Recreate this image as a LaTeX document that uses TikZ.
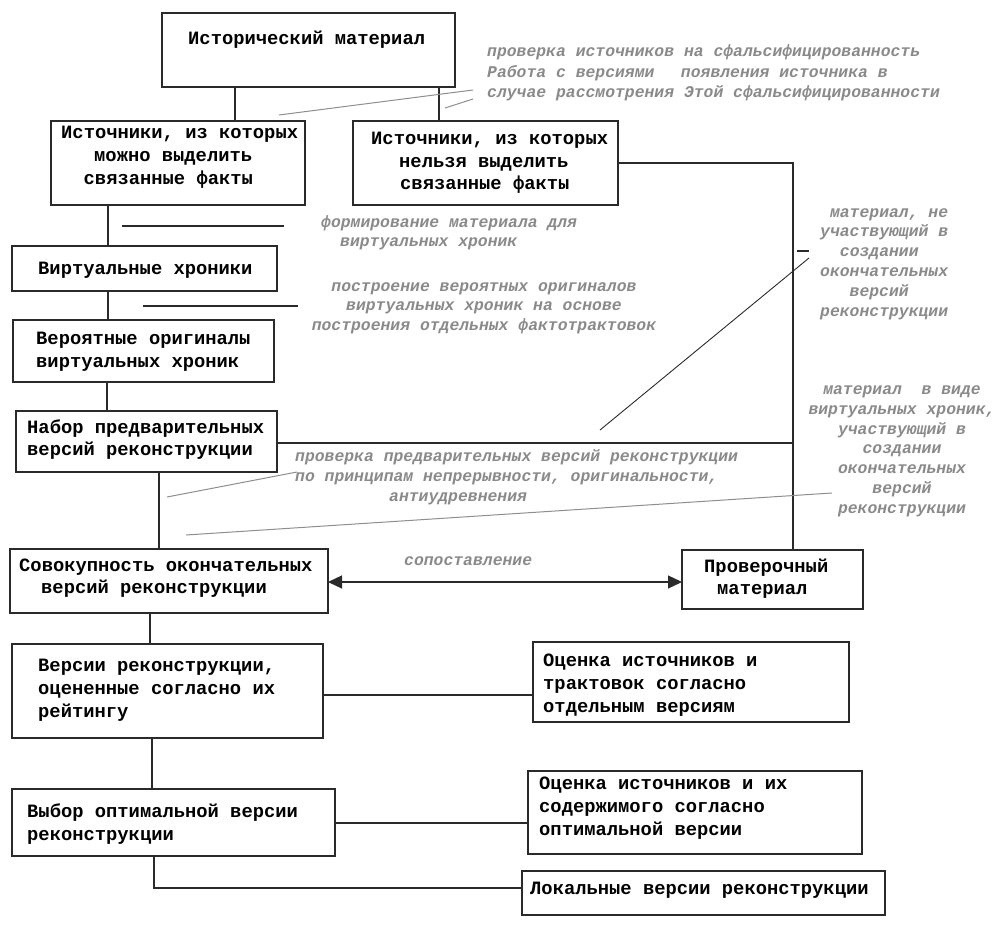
\documentclass[tikz,border=0pt]{standalone}
\usepackage{fontspec}
\newfontfamily\mono{Liberation Mono}
\usetikzlibrary{arrows.meta}
\definecolor{boxline}{HTML}{2A2A2A}
\definecolor{graytext}{HTML}{8A8A8A}
\definecolor{grayline}{HTML}{8E8E8E}
\newcommand{\mybox}[5]{\node[box, minimum width={#4-#2}, minimum height={#5-#3}] (#1) at ({(#2+#4)/2},{(#3+#5)/2}) {};}
\begin{document}
\begin{tikzpicture}[x=1pt,y=-1pt,
  box/.style={draw=boxline, line width=1.3pt, inner sep=0pt, outer sep=0pt, rectangle},
  conn/.style={draw=boxline, line width=1.3pt},
  leader/.style={draw=grayline, line width=1pt},
  blackleader/.style={draw=boxline, line width=1.1pt},
  bt/.style={font=\mono\bfseries\fontsize{18.8}{22.6}\selectfont, inner sep=0pt, anchor=base west, align=left, text=black},
  gt/.style={font=\mono\bfseries\itshape\fontsize{16.4}{19.8}\selectfont, inner sep=0pt, anchor=base west, align=left, text=graytext},
  twoheads/.style={{Triangle[length=14pt,width=13pt]}-{Triangle[length=14pt,width=13pt]}}]
\useasboundingbox (0,0) rectangle (1001,944);

% boxes
\mybox{b1}{162}{13}{455}{87}
\mybox{b2}{51}{121}{305}{205}
\mybox{b3}{353}{121}{618}{205}
\mybox{b4}{12}{246}{277}{291}
\mybox{b5}{13}{320}{274}{382}
\mybox{b6}{16}{411}{277}{472}
\mybox{b7}{10}{549}{328}{613}
\mybox{b8}{682}{550}{863}{609}
\mybox{b9}{12}{644}{323}{738}
\mybox{b11}{533}{642}{849}{722}
\mybox{b10}{12}{789}{335}{856}
\mybox{b12}{528}{771}{862}{854}
\mybox{b13}{522}{871}{885}{915}

% box texts (multi-line nodes: base = baseline of last line)
\node[bt] (t1) at (188,45) {Исторический материал};
\node[bt, font=\mono\bfseries\fontsize{18.8}{23}\selectfont] (t2) at (61,185) {Источники, из которых\\\hspace*{33pt}можно выделить\\\hspace*{22.5pt}связанные факты};
\node[bt] (t3) at (371,190) {Источники, из которых\\\hspace*{28pt}нельзя выделить\\\hspace*{29pt}связанные факты};
\node[bt] (t4) at (38,274) {Виртуальные хроники};
\node[bt, font=\mono\bfseries\fontsize{18.8}{23}\selectfont] (t5) at (36,367) {Вероятные оригиналы\\виртуальных хроник};
\node[bt, font=\mono\bfseries\fontsize{18.8}{22}\selectfont] (t6) at (27,455) {Набор предварительных\\версий реконструкции};
\node[bt, font=\mono\bfseries\fontsize{18.8}{22}\selectfont] (t7) at (19,593) {Совокупность окончательных\\\hspace*{22pt}версий реконструкции};
\node[bt, font=\mono\bfseries\fontsize{18.8}{22}\selectfont] (t8) at (704,594) {Проверочный\\\hspace*{13pt}материал};
\node[bt] (t9) at (38,717) {Версии реконструкции,\\оцененные согласно их\\рейтингу};
\node[bt] (t11) at (543,712) {Оценка источников и\\трактовок согласно\\отдельным версиям};
\node[bt, font=\mono\bfseries\fontsize{18.8}{23}\selectfont] (t10) at (27,840) {Выбор оптимальной версии\\реконструкции};
\node[bt] (t12) at (539,835) {Оценка источников и их\\содержимого согласно\\оптимальной версии};
\node[bt] (t13) at (530,894) {Локальные версии реконструкции};

% gray labels
\node[gt, font=\mono\bfseries\itshape\fontsize{16.4}{20.5}\selectfont] (g1) at (487,98) {проверка источников на сфальсифицированность\\Работа с версиями\hspace{26.5pt}появления источника в\\случае рассмотрения Этой сфальсифицированности};
\node[gt, font=\mono\bfseries\itshape\fontsize{16.4}{20}\selectfont] (g2) at (321,247) {формирование материала для\\\hspace*{19pt}виртуальных хроник};
\node[gt, anchor=base, align=center, font=\mono\bfseries\itshape\fontsize{16.4}{19.5}\selectfont] (g3) at (484,330) {построение вероятных оригиналов\\виртуальных хроник на основе\\построения отдельных фактотрактовок};
\node[gt] (g4) at (820,316) {\hspace*{9.84pt}материал, не\\участвующий в\\\hspace*{19.7pt}создании\\окончательных\\\hspace*{29.5pt}версий\\реконструкции};
\node[gt, anchor=base, align=center, font=\mono\bfseries\itshape\fontsize{16.4}{19.7}\selectfont] (g5) at (902,513) {материал\ \ в виде\\виртуальных хроник,\\участвующий в\\создании\\окончательных\\версий\\реконструкции};
\node[gt, font=\mono\bfseries\itshape\fontsize{16.4}{20}\selectfont] (g6) at (295,501) {проверка предварительных версий реконструкции\\по принципам непрерывности, оригинальности,\\\hspace*{94pt}антиудревнения};
\node[gt] (g7) at (404,565) {сопоставление};

% connector positions
\coordinate (x1) at (235,0);
\coordinate (x2) at (439,0);
\coordinate (x3) at (108,0);
\coordinate (x4) at (107,0);
\coordinate (x5) at (159,0);
\coordinate (x6) at (150,0);
\coordinate (x7) at (152,0);
\coordinate (x8) at (154,0);
\coordinate (j) at (793,0);
\coordinate (y6) at (0,443);
\coordinate (y9) at (0,695);
\coordinate (y10) at (0,823);
\coordinate (y13) at (0,888);
\coordinate (y78) at (0,582);

% connectors
\draw[conn] (b1.south -| x1) -- (b2.north -| x1);
\draw[conn] (b1.south -| x2) -- (b3.north -| x2);
\draw[conn] (b2.south -| x3) -- (b4.north -| x3);
\draw[conn] (b4.south -| x3) -- (b5.north -| x3);
\draw[conn] (b5.south -| x4) -- (b6.north -| x4);
\draw[conn] (b6.south -| x5) -- (b7.north -| x5);
\draw[conn] (b7.south -| x6) -- (b9.north -| x6);
\draw[conn] (b9.south -| x7) -- (b10.north -| x7);
\draw[conn] (b3.east) -| (b8.north -| j);
\draw[conn] (b6.east |- y6) -- (j |- y6);
\draw[conn, twoheads] (b7.east |- y78) -- (b8.west |- y78);
\draw[conn] (b9.east |- y9) -- (b11.west |- y9);
\draw[conn] (b10.east |- y10) -- (b12.west |- y10);
\draw[conn] (b10.south -| x8) |- (b13.west |- y13);

% leader lines
\draw[leader] (279,115) -- (473,90);
\draw[leader] (445,108) -- (473,99);
\draw[leader] (167,497) -- (297,472);
\draw[leader] (186,535) -- (832,493);
\draw[blackleader] (122,226) -- (284,226);
\draw[blackleader] (143,306) -- (298,306);
\draw[blackleader] (797,251) -- (809,251);
\draw[blackleader, line width=0.9pt] (809,258) -- (600,430);
\end{tikzpicture}
\end{document}
